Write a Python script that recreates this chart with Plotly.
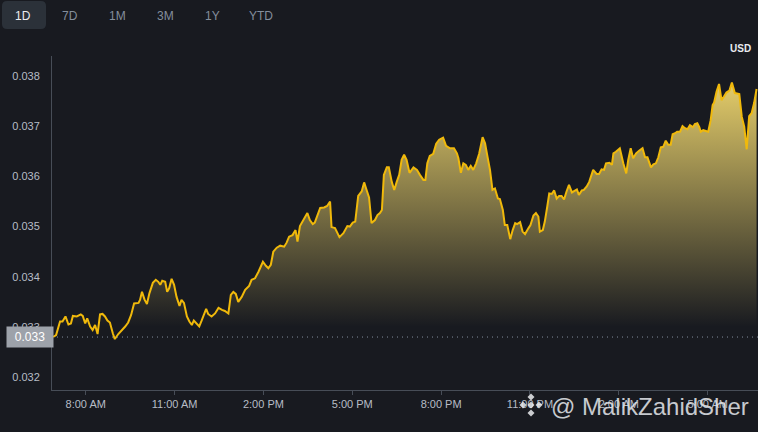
import pandas as pd
import plotly.graph_objects as go

# 1D price data (minutes after 8:00 AM, price in USD)
minutes_from_8am = [
    -66, -60, -52, -47, -41, -35, -30, -26, -18, -10,
    -6, -1, 3, 9, 14, 19, 24, 29, 34, 39,
    44, 49, 55, 59, 66, 73, 80, 86, 92, 98,
    102, 107, 110, 114, 119, 124, 129, 136, 142, 147,
    151, 155, 161, 165, 169, 174, 179, 184, 190, 194,
    199, 205, 210, 215, 219, 225, 230, 235, 240, 244,
    248, 255, 262, 269, 276, 282, 289, 294, 299, 304,
    309, 316, 323, 331, 336, 343, 350, 359, 365, 370,
    375, 380, 387, 394, 402, 407, 412, 419, 425, 429,
    434, 441, 449, 454, 460, 464, 475, 483, 489, 495,
    498, 505, 514, 522, 530, 535, 541, 546, 552, 559,
    564, 569, 574, 579, 586, 591, 596, 600, 604, 610,
    614, 620, 625, 630, 635, 640, 645, 650, 656, 664,
    671, 677, 684, 688, 692, 697, 704, 710, 716, 724,
    730, 738, 746, 752, 755, 760, 765, 770, 775, 780,
    785, 791, 797, 804, 809, 814, 819, 824, 829, 835,
    839, 845, 849, 854, 860, 865, 870, 874, 880, 885,
    890, 897, 901, 907, 912, 917, 920, 926, 930, 935,
    939, 944, 949, 954, 959, 964, 969, 974, 979, 985,
    989, 995, 999, 1005, 1009, 1015, 1020, 1028, 1035, 1040,
    1045, 1050, 1054, 1061, 1066, 1069, 1074, 1082, 1089, 1095,
    1099, 1104, 1109, 1115, 1121, 1128, 1133, 1138, 1145, 1150,
    1155, 1160, 1165, 1170, 1175, 1180, 1185, 1189, 1194, 1198,
    1204, 1209, 1214, 1219, 1224, 1230, 1234, 1239, 1243, 1246,
    1251, 1257, 1261, 1266, 1270, 1273, 1278, 1283, 1288, 1293,
    1298, 1304, 1309, 1315, 1324, 1329, 1334, 1339, 1344, 1349, 1354, 1359,
]

prices = [
    0.03280, 0.03284, 0.03311, 0.03311, 0.03321, 0.03305, 0.03307, 0.03322, 0.03321, 0.03325,
    0.03322, 0.03307, 0.03317, 0.03301, 0.03294, 0.03304, 0.03286, 0.03325, 0.03326, 0.03321,
    0.03313, 0.03309, 0.03287, 0.03276, 0.03286, 0.03293, 0.03301, 0.03309, 0.03324, 0.03347,
    0.03348, 0.03348, 0.03354, 0.03370, 0.03355, 0.03346, 0.03367, 0.03388, 0.03394, 0.03390,
    0.03384, 0.03392, 0.03390, 0.03370, 0.03377, 0.03396, 0.03384, 0.03360, 0.03342, 0.03354,
    0.03348, 0.03321, 0.03311, 0.03304, 0.03313, 0.03306, 0.03301, 0.03313, 0.03324, 0.03336,
    0.03326, 0.03321, 0.03327, 0.03338, 0.03334, 0.03332, 0.03327, 0.03364, 0.03370, 0.03366,
    0.03350, 0.03360, 0.03374, 0.03382, 0.03394, 0.03397, 0.03410, 0.03430, 0.03422, 0.03417,
    0.03424, 0.03450, 0.03458, 0.03462, 0.03460, 0.03468, 0.03480, 0.03483, 0.03493, 0.03470,
    0.03501, 0.03513, 0.03527, 0.03513, 0.03505, 0.03508, 0.03537, 0.03538, 0.03541, 0.03550,
    0.03499, 0.03497, 0.03479, 0.03487, 0.03501, 0.03500, 0.03508, 0.03510, 0.03561, 0.03570,
    0.03588, 0.03573, 0.03558, 0.03507, 0.03513, 0.03523, 0.03527, 0.03533, 0.03603, 0.03618,
    0.03618, 0.03589, 0.03573, 0.03589, 0.03603, 0.03633, 0.03643, 0.03633, 0.03607, 0.03618,
    0.03613, 0.03603, 0.03593, 0.03593, 0.03626, 0.03641, 0.03645, 0.03665, 0.03673, 0.03677,
    0.03661, 0.03656, 0.03656, 0.03646, 0.03636, 0.03607, 0.03626, 0.03623, 0.03613, 0.03621,
    0.03613, 0.03626, 0.03645, 0.03678, 0.03666, 0.03639, 0.03613, 0.03573, 0.03576, 0.03556,
    0.03555, 0.03533, 0.03503, 0.03503, 0.03475, 0.03493, 0.03507, 0.03505, 0.03509, 0.03490,
    0.03485, 0.03497, 0.03503, 0.03522, 0.03527, 0.03520, 0.03490, 0.03493, 0.03510, 0.03540,
    0.03566, 0.03565, 0.03572, 0.03556, 0.03561, 0.03561, 0.03554, 0.03570, 0.03583, 0.03568,
    0.03571, 0.03574, 0.03563, 0.03572, 0.03573, 0.03580, 0.03589, 0.03613, 0.03605, 0.03605,
    0.03614, 0.03613, 0.03626, 0.03627, 0.03623, 0.03646, 0.03649, 0.03656, 0.03626, 0.03606,
    0.03633, 0.03656, 0.03636, 0.03646, 0.03651, 0.03656, 0.03638, 0.03638, 0.03618, 0.03624,
    0.03626, 0.03638, 0.03658, 0.03659, 0.03671, 0.03663, 0.03663, 0.03684, 0.03686, 0.03689,
    0.03689, 0.03700, 0.03696, 0.03694, 0.03702, 0.03698, 0.03704, 0.03706, 0.03698, 0.03689,
    0.03692, 0.03690, 0.03689, 0.03712, 0.03742, 0.03747, 0.03769, 0.03784, 0.03752, 0.03759,
    0.03767, 0.03771, 0.03787, 0.03766, 0.03764, 0.03719, 0.03699, 0.03654, 0.03720, 0.03726, 0.03746, 0.03774,
]

x_tick_hours = [0, 3, 6, 9, 12, 15, 18, 21]
x_tick_labels = ["8:00 AM", "11:00 AM", "2:00 PM", "5:00 PM", "8:00 PM", "11:00 PM", "2:00 AM", "5:00 AM"]
y_tick_vals = [0.032, 0.033, 0.034, 0.035, 0.036, 0.037, 0.038]
range_buttons = ["1D", "7D", "1M", "3M", "1Y", "YTD"]
button_px = [23, 70, 117, 165, 212, 261]

BG = "#181a20"
GRID = "#474d57"
TXT = "#b7bdc6"
YELLOW = "#f0b90b"
FONT = "Liberation Sans, Arial, sans-serif"

W, H = 758, 432
L, R, T, B = 52, 0, 56, 42
PW, PH = W - L - R, H - T - B

def px_x(px):
    return (px - L) / PW

def px_y(py):
    return (H - B - py) / PH

base = pd.Timestamp("2024-01-01 08:00")
times = base + pd.to_timedelta(minutes_from_8am, unit="min")
tick_times = [base + pd.Timedelta(hours=h) for h in x_tick_hours]

fig = go.Figure()
fig.add_trace(go.Scatter(
    x=times, y=prices,
    mode="lines",
    line=dict(color=YELLOW, width=2),
    fill="tozeroy",
    fillgradient=dict(
        type="vertical",
        start=0.0330, stop=0.0379,
        colorscale=[[0, "rgba(240,215,110,0)"], [1, "rgba(240,215,110,0.95)"]],
    ),
    hoverinfo="skip",
    showlegend=False,
))

open_price = prices[0]

shapes = [
    # dotted reference line at the opening price
    dict(type="line", xref="paper", x0=0, x1=1, yref="y", y0=open_price, y1=open_price,
         line=dict(color="#848e9c", width=1, dash="1px,4px")),
]

# rounded box behind the active "1D" button
rx, ry = 5 / PW, 5 / PH
x0, x1 = px_x(2), px_x(46)
y0, y1 = px_y(29), px_y(1)
shapes.append(dict(
    type="path", xref="paper", yref="paper",
    path=(f"M {x0+rx},{y1} L {x1-rx},{y1} Q {x1},{y1} {x1},{y1-ry} "
          f"L {x1},{y0+ry} Q {x1},{y0} {x1-rx},{y0} L {x0+rx},{y0} "
          f"Q {x0},{y0} {x0},{y0+ry} L {x0},{y1-ry} Q {x0},{y1} {x0+rx},{y1} Z"),
    fillcolor="#2b3139", line=dict(width=0), layer="above",
))

# small diamond logo next to the watermark
cx, cy = 531, 405
for dx, dy, s in [(0, -8, 3.5), (-8, 0, 3.5), (8, 0, 3.5), (0, 8, 3.5), (0, 0, 3.5)]:
    shapes.append(dict(
        type="path", xref="paper", yref="paper",
        path=(f"M {px_x(cx+dx)},{px_y(cy+dy-s)} L {px_x(cx+dx+s)},{px_y(cy+dy)} "
              f"L {px_x(cx+dx)},{px_y(cy+dy+s)} L {px_x(cx+dx-s)},{px_y(cy+dy)} Z"),
        fillcolor="rgba(235,237,240,0.85)", line=dict(width=0), layer="above",
    ))

annotations = []
for label, bx in zip(range_buttons, button_px):
    annotations.append(dict(
        text=label, xref="paper", yref="paper", x=px_x(bx), y=px_y(16),
        showarrow=False, xanchor="center", yanchor="middle",
        font=dict(family=FONT, size=12, color="#eaecef" if label == "1D" else "#848e9c"),
    ))

annotations += [
    dict(text="<b>USD</b>", xref="paper", yref="paper", x=px_x(753), y=px_y(48),
         showarrow=False, xanchor="right", yanchor="middle",
         font=dict(family=FONT, size=10, color="#eaecef")),
    dict(text=f"{open_price:.3f}", xref="paper", yref="y", x=px_x(30), y=open_price,
         showarrow=False, xanchor="center", yanchor="middle",
         width=44, height=18, bgcolor="#9da2aa",
         font=dict(family=FONT, size=12, color="#ffffff")),
    dict(text="@ MalikZahidSher", xref="paper", yref="paper", x=px_x(549), y=px_y(406),
         showarrow=False, xanchor="left", yanchor="middle",
         font=dict(family=FONT, size=24, color="rgba(225,228,232,0.88)")),
]

fig.update_layout(
    width=W, height=H,
    margin=dict(l=L, r=R, t=T, b=B),
    paper_bgcolor=BG, plot_bgcolor=BG,
    font=dict(family=FONT, color=TXT, size=11),
    shapes=shapes,
    annotations=annotations,
)

fig.update_xaxes(
    range=[base + pd.Timedelta(minutes=-68.3), base + pd.Timedelta(minutes=1361.9)],
    tickvals=tick_times, ticktext=x_tick_labels,
    showgrid=False, zeroline=False,
    showline=True, linecolor=GRID, linewidth=1,
    ticks="outside", ticklen=4, tickcolor=GRID,
    tickfont=dict(size=11, color=TXT),
)
fig.update_yaxes(
    range=[0.031745, 0.038398],
    tickvals=y_tick_vals, tickformat=".3f",
    showgrid=False, zeroline=False,
    showline=True, linecolor=GRID, linewidth=1,
    ticks="", ticklabelstandoff=9,
    tickfont=dict(size=11, color=TXT),
)

# drop the page's default body margin so the figure fills the window
fig.write_html(
    "out.html",
    config={"displayModeBar": False},
    post_script="document.body.style.margin='0';document.body.style.background='#181a20';",
)
